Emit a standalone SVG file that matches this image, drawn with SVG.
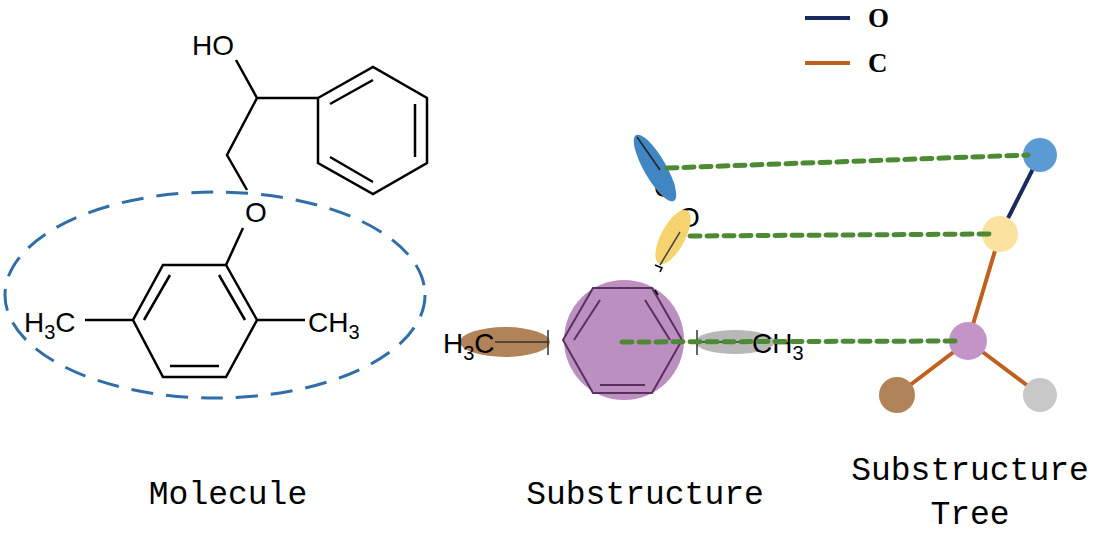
<svg xmlns="http://www.w3.org/2000/svg" width="1093" height="535" viewBox="0 0 1093 535">
<style>
.b{stroke:#000;stroke-width:2.5;fill:none}
.t{font-family:"Liberation Sans",Arial,sans-serif;font-size:28px;fill:#000}
.lab{font-family:"Liberation Mono",monospace;font-size:33px;fill:#000;text-anchor:middle}
.g{stroke:#4e8a34;stroke-width:5;stroke-dasharray:10,7;fill:none;stroke-linecap:round}
.leg{font-family:"Liberation Serif",serif;font-weight:bold;font-size:27px}
</style>
<rect width="1093" height="535" fill="#fff"/>
<g id="molecule">
<text class="t" x="192" y="55">HO</text>
<path class="b" d="M236 60L257 98L318 98M257 98L227 155L247 190M243 228L226 265"/>
<path class="b" d="M318 98L373 67L427 98L427 163L373 194L318 163Z M330 104L373 80 M415 104L415 157 M330 157L373 182"/>
<text class="t" x="256" y="222" text-anchor="middle">O</text>
<path class="b" d="M163 265L226 265L257 320L226 377L163 377L133 320Z M170 275L144 320 M219 275L245 320 M170 366L219 366 M257 320L305 320 M85 320L133 320"/>
<text class="t" x="308" y="332">CH<tspan font-size="20" dy="7">3</tspan></text>
<text class="t" x="24" y="332">H<tspan font-size="20" dy="7">3</tspan><tspan dy="-7">C</tspan></text>
<ellipse cx="215" cy="295" rx="210" ry="103" fill="none" stroke="#2f6ea8" stroke-width="3" stroke-dasharray="22,13"/>
</g>
<g id="substructure">
<circle cx="624" cy="340" r="60" fill="#bb8fc0"/>
<path d="M593 288L652 288L682 340L652 393L593 393L563 340Z M600 300L574 340 M645 300L670 340 M600 385L645 385" stroke="#5a3060" stroke-width="2" fill="none"/>
<ellipse cx="505" cy="342" rx="45" ry="15" fill="#b08458"/>
<ellipse cx="735" cy="342" rx="40" ry="12" fill="#b8b8b8"/>
<text class="t" x="443" y="353" fill="#222">H<tspan font-size="20" dy="7">3</tspan><tspan dy="-7">C</tspan></text>
<path d="M495 342L548 342 M548 330L548 355 M697 330L697 355 M697 342L752 342" stroke="#333" stroke-width="1.5"/>
<text class="t" x="752" y="353" fill="#222">CH<tspan font-size="20" dy="7">3</tspan></text>
<text class="t" x="654" y="197">O</text>
<ellipse cx="655" cy="168" rx="38" ry="11" fill="#3f86c2" transform="rotate(60 655 168)"/>
<line x1="637" y1="137" x2="660" y2="170" stroke="#222" stroke-width="1.5"/>
<text class="t" x="678" y="227">O</text>
<ellipse cx="673" cy="237" rx="30" ry="12" fill="#f5d470" transform="rotate(-62 673 237)"/>
<line x1="660" y1="265" x2="680" y2="232" stroke="#444" stroke-width="1.5"/>
<path d="M655 265L662 268L660 272M655 290L658 295" stroke="#000" stroke-width="1.5" fill="none"/>
</g>
<g id="tree">
<line x1="1040" y1="155" x2="1000" y2="234" stroke="#1a2a5e" stroke-width="4"/>
<path d="M1000 234L968 341L897 395M968 341L1040 395" stroke="#c0601e" stroke-width="4" fill="none"/>
<circle cx="1040" cy="155" r="17" fill="#5b9ad2"/>
<circle cx="1000" cy="234" r="18" fill="#fbe29e"/>
<circle cx="968" cy="341" r="19" fill="#c294c8"/>
<circle cx="897" cy="395" r="18" fill="#b08458"/>
<circle cx="1040" cy="395" r="17" fill="#c8c8c8"/>
</g>
<g id="connectors">
<path class="g" d="M667 168L1028 155 M690 236L990 234 M622 342L958 341"/>
</g>
<g id="legend">
<line x1="805" y1="18" x2="850" y2="18" stroke="#1a2a5e" stroke-width="4"/>
<line x1="805" y1="63" x2="850" y2="63" stroke="#c0601e" stroke-width="4"/>
<text class="leg" x="868" y="27">O</text>
<text class="leg" x="868" y="72">C</text>
</g>
<text class="lab" x="228" y="504">Molecule</text>
<text class="lab" x="645" y="504">Substructure</text>
<text class="lab" x="970" y="480">Substructure</text>
<text class="lab" x="970" y="524">Tree</text>
</svg>
